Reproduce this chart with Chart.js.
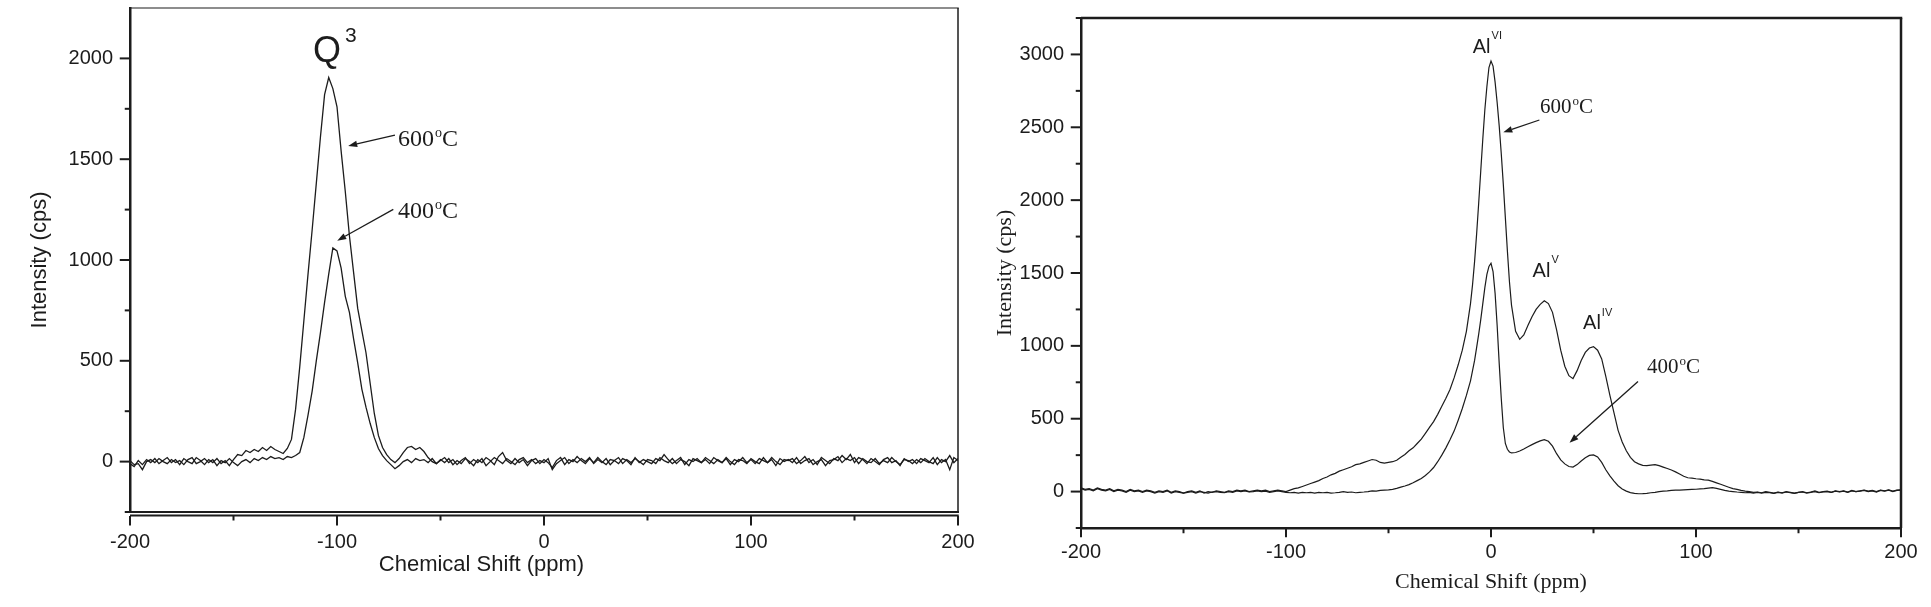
<!DOCTYPE html>
<html><head><meta charset="utf-8">
<script src="https://cdn.jsdelivr.net/npm/chart.js@4/dist/chart.umd.min.js"></script>
<style>
html,body{margin:0;padding:0;background:#fff;width:1931px;height:607px;overflow:hidden;}
canvas{position:absolute;top:0;}
#cL{left:0;} #cR{left:980px;}
</style></head><body>
<canvas id="cL" width="980" height="607"></canvas>
<canvas id="cR" width="951" height="607"></canvas>
<script>
// ---------- 29Si spectrum (left) ----------
const siShift = [
-200,-198,-196,-194,-192,-190,-188,-186,-184,-182,
-180,-178,-176,-174,-172,-170,-168,-166,-164,-162,
-160,-158,-156,-154,-152,-150,-148,-146,-144,-142,
-140,-138,-136,-134,-132,-130,-128,-126,-124,-122,
-120,-118,-116,-114,-112,-110,-108,-106,-104,-102,
-100,-98,-96,-94,-92,-90,-88,-86,-84,-82,
-80,-78,-76,-74,-72,-70,-68,-66,-64,-62,
-60,-58,-56,-54,-52,-50,-48,-46,-44,-42,
-40,-38,-36,-34,-32,-30,-28,-26,-24,-22,
-20,-18,-16,-14,-12,-10,-8,-6,-4,-2,
0,2,4,6,8,10,12,14,16,18,
20,22,24,26,28,30,32,34,36,38,
40,42,44,46,48,50,52,54,56,58,
60,62,64,66,68,70,72,74,76,78,
80,82,84,86,88,90,92,94,96,98,
100,102,104,106,108,110,112,114,116,118,
120,122,124,126,128,130,132,134,136,138,
140,142,144,146,148,150,152,154,156,158,
160,162,164,166,168,170,172,174,176,178,
180,182,184,186,188,190,192,194,196,198,
200];
const si600 = [
-10,-25,5,-15,10,-5,15,-10,5,20,
-5,10,-15,15,0,-10,20,5,-15,10,
-5,15,-10,5,-20,10,35,30,55,45,
60,50,70,55,75,60,50,40,65,110,
260,470,700,930,1150,1380,1610,1820,1905,1850,
1760,1540,1340,1120,940,760,650,540,390,240,
130,70,35,10,-5,15,45,70,75,60,
70,50,20,0,-10,10,-5,15,-15,5,
-10,15,0,-20,10,-5,20,5,-15,25,
45,5,-10,15,-5,10,-20,5,15,-10,
10,-5,-30,5,20,-15,10,0,25,5,
-10,15,-5,20,0,-15,10,5,-10,15,
5,-15,20,-5,10,0,-10,15,5,35,
10,-10,5,20,-15,10,0,15,-5,10,
-10,20,5,-5,15,-15,10,0,20,-5,
10,-10,15,5,-5,20,0,-15,10,5,
15,-10,5,25,-5,10,-15,20,5,-10,
15,5,30,10,35,-5,20,10,-10,15,
0,-15,10,20,-5,5,-20,15,0,10,
-10,15,5,-5,20,-15,10,0,30,-5,
15];
const si400 = [
5,-15,-10,-40,0,10,-5,15,0,-10,
10,-5,5,-15,10,20,-10,0,15,-5,
10,-20,5,-5,15,-5,-20,0,10,-5,
15,5,20,10,25,15,20,10,25,20,
30,45,120,230,350,500,640,790,930,1060,
1045,960,820,740,610,490,360,270,190,120,
65,30,5,-15,-35,-20,0,10,-5,15,
5,10,-5,15,-10,5,20,-5,10,-15,
5,20,-10,10,-5,15,-20,0,20,5,
-10,15,0,-15,10,20,-5,10,-10,5,
-5,15,-40,-10,5,20,-10,10,-5,15,
0,20,-10,10,-5,15,-15,5,20,-10,
10,-5,15,0,-15,10,5,-10,20,5,
-5,15,-10,10,0,-20,15,5,-5,20,
5,-10,10,-5,20,0,-15,10,5,-10,
15,0,-10,20,-5,10,-20,15,0,10,
-5,20,-10,5,15,-15,0,10,-20,5,
10,25,-5,15,5,20,-10,15,0,-5,
15,-10,5,-5,20,0,-15,10,5,-10,
10,-5,15,0,-10,20,-5,10,-40,20,
5];
const siXTicks = [-200,-100,0,100,200];
const siXMinor = [-150,-50,50,150];
const siYTicks = [0,500,1000,1500,2000];
const siYMinor = [-250,250,750,1250,1750];

// ---------- 27Al spectrum (right) ----------
const alShift = [
-200,-198,-196,-194,-192,-190,-188,-186,-184,-182,
-180,-178,-176,-174,-172,-170,-168,-166,-164,-162,
-160,-158,-156,-154,-152,-150,-148,-146,-144,-142,
-140,-138,-136,-134,-132,-130,-128,-126,-124,-122,
-120,-118,-116,-114,-112,-110,-108,-106,-104,-102,
-100,-98,-96,-94,-92,-90,-88,-86,-84,-82,
-80,-78,-76,-74,-72,-70,-68,-66,-64,-62,
-60,-58,-56,-54,-52,-50,-48,-46,-44,-42,
-40,-38,-36,-34,-32,-30,-28,-26,-24,-22,
-20,-18,-16,-14,-12,
-10,-9,-8,-7,-6,-5,-4,-3,-2,-1,0,1,2,3,4,5,6,7,8,9,10,
12,14,16,18,20,22,24,26,28,30,
32,34,36,38,40,42,44,46,48,50,
52,54,56,58,60,62,64,66,68,70,
72,74,76,78,80,82,84,86,88,90,
92,94,96,98,100,102,104,106,108,110,
112,114,116,118,120,122,124,126,128,130,
132,134,136,138,140,142,144,146,148,150,
152,154,156,158,160,162,164,166,168,170,
172,174,176,178,180,182,184,186,188,190,
192,194,196,198,200];
const al600 = [
25,15,20,10,25,15,10,20,5,15,
10,0,15,5,10,0,10,5,-5,5,
0,10,-5,5,0,-10,0,5,-5,5,
-10,0,-5,5,0,-5,5,0,10,5,
10,0,5,10,5,10,0,5,10,5,
0,10,20,25,35,45,55,65,75,90,
100,115,125,140,150,160,170,185,190,200,
210,220,215,200,195,200,205,215,235,255,
280,300,330,360,400,440,480,530,585,640,
700,780,870,970,1100,
1290,1420,1580,1770,1980,2200,2420,2620,2780,2910,2955,2920,2810,2670,2510,2320,2110,1880,1650,1440,1280,
1100,1045,1075,1140,1200,1250,1285,1310,1290,1230,
1110,970,860,795,775,830,900,955,985,995,
970,910,790,660,540,420,340,280,235,205,
190,180,178,182,185,178,168,158,148,135,
120,105,95,92,88,85,80,78,70,60,
50,40,30,20,15,8,3,0,-5,-3,
-8,0,-5,-10,-3,-8,0,-5,-10,-5,
0,-8,-3,5,-5,0,3,-5,5,0,
5,-3,8,0,5,10,3,8,0,10,
5,12,3,10,12];
const al400 = [
20,10,15,5,20,10,5,15,0,10,
5,-5,10,0,5,-5,5,0,-10,0,
-5,5,-10,0,-5,-10,-5,0,-10,0,
-5,-10,-3,0,-5,-8,0,-5,5,0,
5,-3,0,5,0,3,-5,0,5,0,
-5,-8,-5,-10,-5,-8,-5,-10,-5,-8,
-5,-10,-8,-5,0,-5,-3,-8,-5,-3,
0,5,3,8,10,12,15,22,30,38,
48,60,75,90,110,135,165,205,250,300,
355,415,490,570,660,
760,830,900,990,1080,1180,1290,1400,1490,1545,1567,1510,1360,1140,880,640,440,330,290,272,265,
268,278,292,308,322,336,348,356,345,312,
260,218,190,172,168,185,210,232,248,252,
238,200,150,108,72,40,18,3,-7,-12,
-15,-14,-12,-8,-5,0,3,5,8,10,
10,12,14,15,16,18,20,24,27,22,
15,8,3,0,-3,-5,-8,-5,-10,-5,
-10,-5,-8,-12,-5,-10,-3,-8,-12,-5,
-3,-10,-5,0,-8,-3,0,-5,3,-3,
3,-5,5,0,3,8,0,5,-3,8,
3,10,0,8,10];
const alXTicks = [-200,-100,0,100,200];
const alXMinor = [-150,-50,50,150];
const alYTicks = [0,500,1000,1500,2000,2500,3000];
const alYMinor = [-250,250,750,1250,1750,2250,2750,3250];

// ---------- annotations (in data units) ----------
const siNotes = [
  {text:'Q', sup:'3', x:-111.6, y:1982, font:'36px "Liberation Sans"', supFont:'21px "Liberation Sans"', supDx:4, supDy:-20},
  {text:'600', sup:'o', tail:'C', x:-70.5, y:1567, font:'24px "Liberation Serif"', supFont:'14px "Liberation Serif"', supDx:1, supDy:-9},
  {text:'400', sup:'o', tail:'C', x:-70.5, y:1207, font:'24px "Liberation Serif"', supFont:'14px "Liberation Serif"', supDx:1, supDy:-9}
];
const siArrows = [
  {fx:-72.0, fy:1619, tx:-94.6, ty:1566},
  {fx:-72.8, fy:1251, tx:-99.9, ty:1096}
];
const alNotes = [
  {text:'Al', sup:'VI', x:-8.9, y:3008, font:'20px "Liberation Sans"', supFont:'11px "Liberation Sans"', supDx:1, supDy:-14},
  {text:'Al', sup:'V', x:20.3, y:1471, font:'20px "Liberation Sans"', supFont:'11px "Liberation Sans"', supDx:1, supDy:-14},
  {text:'Al', sup:'IV', x:44.9, y:1116, font:'20px "Liberation Sans"', supFont:'11px "Liberation Sans"', supDx:1, supDy:-13},
  {text:'600', sup:'o', tail:'C', x:23.9, y:2596, font:'21px "Liberation Serif"', supFont:'13px "Liberation Serif"', supDx:1, supDy:-8},
  {text:'400', sup:'o', tail:'C', x:76.1, y:812, font:'21px "Liberation Serif"', supFont:'13px "Liberation Serif"', supDx:1, supDy:-8}
];
const alArrows = [
  {fx:23.6, fy:2550, tx:6.0, ty:2466},
  {fx:71.7, fy:755, tx:38.3, ty:335}
];

const ink = '#1c1c1c';
Chart.defaults.color = ink;

function seg(ctx, x1, y1, x2, y2, w) {
  ctx.save(); ctx.strokeStyle = ink; ctx.lineWidth = w; ctx.lineCap = 'butt';
  ctx.beginPath(); ctx.moveTo(x1, y1); ctx.lineTo(x2, y2); ctx.stroke(); ctx.restore();
}
function drawNote(ctx, xs, ys, n) {
  const px = xs.getPixelForValue(n.x), py = ys.getPixelForValue(n.y);
  ctx.save(); ctx.fillStyle = ink; ctx.textAlign = 'left'; ctx.textBaseline = 'alphabetic';
  ctx.font = n.font; ctx.fillText(n.text, px, py);
  let cx = px + ctx.measureText(n.text).width;
  if (n.sup) { ctx.font = n.supFont; ctx.fillText(n.sup, cx + n.supDx, py + n.supDy); cx += n.supDx + ctx.measureText(n.sup).width; }
  if (n.tail) { ctx.font = n.font; ctx.fillText(n.tail, cx, py); }
  ctx.restore();
}
function drawArrow(ctx, xs, ys, a) {
  const x1 = xs.getPixelForValue(a.fx), y1 = ys.getPixelForValue(a.fy);
  const x2 = xs.getPixelForValue(a.tx), y2 = ys.getPixelForValue(a.ty);
  const ang = Math.atan2(y2 - y1, x2 - x1), L = 9, W = 3.2;
  const bx = x2 - L * Math.cos(ang), by = y2 - L * Math.sin(ang);
  seg(ctx, x1, y1, bx, by, 1.3);
  ctx.save(); ctx.fillStyle = ink; ctx.beginPath();
  ctx.moveTo(x2, y2);
  ctx.lineTo(bx + W * Math.sin(ang), by - W * Math.cos(ang));
  ctx.lineTo(bx - W * Math.sin(ang), by + W * Math.cos(ang));
  ctx.closePath(); ctx.fill(); ctx.restore();
}

function framePlugin(o) {
  return {
    id: 'frame',
    afterDraw(chart) {
      const ctx = chart.ctx, a = chart.chartArea, xs = chart.scales.x, ys = chart.scales.y;
      // top & right frame lines
      seg(ctx, a.left, a.top, a.right + o.rightW / 2, a.top, o.topW);
      seg(ctx, a.right, a.top, a.right, a.bottom, o.rightW);
      let xb = a.bottom + o.bottomW / 2;
      if (o.double) { const yy = a.bottom + o.double; seg(ctx, a.left, yy, a.right + o.rightW / 2, yy, o.bottomW); xb = yy + o.bottomW / 2; }
      o.xMajor.forEach(v => { const p = xs.getPixelForValue(v); seg(ctx, p, xb - 0.5, p, xb + o.xMajLen, 2); });
      o.xMinor.forEach(v => { const p = xs.getPixelForValue(v); seg(ctx, p, xb - 0.5, p, xb + o.xMinLen, 2); });
      const yl = a.left - o.leftW / 2;
      o.yMajor.forEach(v => { const p = ys.getPixelForValue(v); seg(ctx, yl + 0.5, p, yl - o.yMajLen, p, 2); });
      o.yMinor.forEach(v => { const p = ys.getPixelForValue(v); seg(ctx, yl + 0.5, p, yl - o.yMinLen, p, 2); });
      (o.notes || []).forEach(n => drawNote(ctx, xs, ys, n));
      (o.arrows || []).forEach(r => drawArrow(ctx, xs, ys, r));
      if (o.xTitle) {
        ctx.save(); ctx.fillStyle = ink; ctx.font = o.xTitle.font; ctx.textAlign = 'center'; ctx.textBaseline = 'middle';
        ctx.fillText(o.xTitle.text, xs.getPixelForValue(o.xTitle.x), o.xTitle.py); ctx.restore();
      }
    }
  };
}

function makeChart(id, xsArr, s600, s400, o) {
  const pts = arr => xsArr.map((v, i) => ({x: v, y: arr[i]}));
  const ds = (label, arr) => ({label, data: pts(arr), borderColor: ink, borderWidth: o.lw, pointRadius: 0, tension: 0, fill: false});
  return new Chart(document.getElementById(id), {
    type: 'line',
    data: {datasets: [ds('600 °C', s600), ds('400 °C', s400)]},
    options: {
      responsive: false, animation: false, devicePixelRatio: 1,
      layout: {padding: o.pad},
      plugins: {legend: {display: false}, tooltip: {enabled: false}},
      scales: {
        x: {
          type: 'linear', position: 'bottom', min: -200, max: 200,
          afterBuildTicks: s => { s.ticks = o.xTicks.map(v => ({value: v})); },
          afterFit: s => { s.height = o.xH; s.paddingLeft = 0; s.paddingRight = 0; },
          grid: {display: false, drawTicks: false},
          border: {display: true, color: ink, width: o.bottomW},
          ticks: {padding: o.xTickPad, color: ink, font: {family: 'Liberation Sans', size: 20}, maxRotation: 0, autoSkip: false, callback: v => String(v)},
          title: o.xTitleCfg
        },
        y: {
          type: 'linear', position: 'left', min: o.yMin, max: o.yMax,
          afterBuildTicks: s => { s.ticks = o.yTicks.map(v => ({value: v})); },
          afterFit: s => { s.width = o.yW; s.paddingTop = 0; s.paddingBottom = 0; },
          grid: {display: false, drawTicks: false},
          border: {display: true, color: ink, width: o.leftW},
          ticks: {padding: 17, color: ink, font: {family: 'Liberation Sans', size: 20}, autoSkip: false, callback: v => String(v)},
          title: o.yTitleCfg
        }
      }
    },
    plugins: [framePlugin(o.frame)]
  });
}

makeChart('cL', siShift, si600, si400, {
  lw: 1.3, pad: {left: 0, top: 8, right: 22, bottom: 0},
  xTicks: siXTicks, yTicks: siYTicks, yMin: -250, yMax: 2250,
  xH: 95, yW: 130, xTickPad: 18, bottomW: 2, leftW: 2.5,
  xTitleCfg: {display: false},
  yTitleCfg: {display: true, text: 'Intensity (cps)', color: ink, font: {family: 'Liberation Sans', size: 22}, padding: {top: 27, bottom: 0}},
  frame: {topW: 1.2, rightW: 1.5, bottomW: 2, leftW: 2.5, double: 3.5,
    xMajor: siXTicks, xMinor: siXMinor, yMajor: siYTicks, yMinor: siYMinor,
    xMajLen: 9, xMinLen: 4, yMajLen: 9, yMinLen: 4,
    notes: siNotes, arrows: siArrows,
    xTitle: {text: 'Chemical Shift (ppm)', x: -30.2, py: 565, font: '22px "Liberation Sans"'}}
});

makeChart('cR', alShift, al600, al400, {
  lw: 1.2, pad: {left: 0, top: 18, right: 30, bottom: 0},
  xTicks: alXTicks, yTicks: alYTicks, yMin: -250, yMax: 3250,
  xH: 79, yW: 101, xTickPad: 12, bottomW: 2.5, leftW: 2.5,
  xTitleCfg: {display: true, text: 'Chemical Shift (ppm)', color: ink, font: {family: 'Liberation Serif', size: 22}, padding: {top: 0, bottom: 12}},
  yTitleCfg: {display: true, text: 'Intensity (cps)', color: ink, font: {family: 'Liberation Serif', size: 22}, padding: {top: 12, bottom: 0}},
  frame: {topW: 2.5, rightW: 2.5, bottomW: 2.5, leftW: 2.5, double: 0,
    xMajor: alXTicks, xMinor: alXMinor, yMajor: alYTicks, yMinor: alYMinor,
    xMajLen: 8, xMinLen: 4, yMajLen: 9, yMinLen: 4,
    notes: alNotes, arrows: alArrows}
});
</script>
</body></html>
